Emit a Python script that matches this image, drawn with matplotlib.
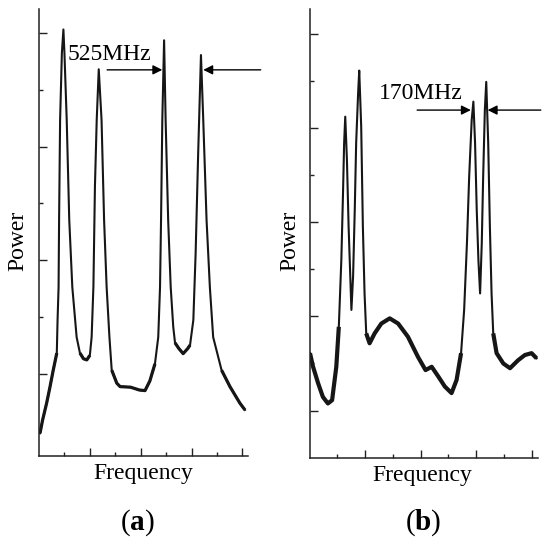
import numpy as np
import matplotlib
matplotlib.use('Agg')
import matplotlib.pyplot as plt

plt.rcParams['font.family'] = ['Liberation Serif', 'DejaVu Serif']
plt.rcParams['mathtext.fontset'] = 'custom'
plt.rcParams['mathtext.rm'] = 'Liberation Serif'
plt.rcParams['mathtext.bf'] = 'Liberation Serif:bold'

# (a) 四峰谱，峰间隔 525 MHz
A_X = [0.04, 0.14, 0.30, 0.43, 0.56, 0.70, 0.73, 0.77, 0.79, 0.83, 0.90, 0.96, 1.00, 1.09,
       1.19, 1.31, 1.48, 1.61, 1.75, 1.88, 2.00, 2.07, 2.14, 2.20, 2.27, 2.35, 2.46, 2.56,
       2.66, 2.77, 2.86, 3.06, 3.19, 3.60, 3.95, 4.17, 4.36, 4.56, 4.69, 4.76, 4.80, 4.85,
       4.92, 4.98, 5.08, 5.18, 5.28, 5.35, 5.50, 5.67, 5.85, 5.94, 6.07, 6.16, 6.26, 6.37,
       6.46, 6.59, 6.72, 6.85, 7.18, 7.51, 7.90, 8.10]
A_Y = [-0.04, 0.19, 0.49, 0.77, 1.07, 1.37, 1.95, 2.53, 3.71, 5.47, 6.65, 7.06, 6.65, 5.47,
       3.71, 2.53, 1.65, 1.37, 1.27, 1.25, 1.33, 1.65, 2.54, 4.30, 5.47, 6.36, 5.47, 3.71,
       2.53, 1.65, 1.07, 0.84, 0.78, 0.77, 0.72, 0.71, 0.88, 1.18, 1.65, 2.53, 3.71, 5.47,
       6.87, 5.47, 3.71, 2.53, 1.83, 1.55, 1.45, 1.36, 1.45, 1.51, 1.95, 3.12, 4.88, 6.61,
       5.47, 3.71, 2.53, 1.65, 1.07, 0.78, 0.49, 0.37]

# (b) 两组双峰，间隔 170 MHz
B_X = [0.05, 0.16, 0.34, 0.51, 0.69, 0.84, 0.99, 1.08, 1.17, 1.23, 1.27, 1.31, 1.37, 1.43,
       1.49, 1.53, 1.59, 1.65, 1.70, 1.77, 1.81, 1.88, 1.94, 2.00, 2.06, 2.18, 2.36, 2.60,
       2.90, 3.20, 3.55, 3.91, 4.18, 4.40, 4.64, 4.87, 5.11, 5.29, 5.45, 5.56, 5.66, 5.74,
       5.83, 5.89, 5.95, 6.01, 6.07, 6.13, 6.19, 6.24, 6.30, 6.35, 6.42, 6.48, 6.54, 6.60,
       6.72, 6.96, 7.20, 7.49, 7.73, 7.97, 8.15]
B_Y = [2.22, 1.93, 1.58, 1.29, 1.15, 1.22, 1.93, 2.78, 4.20, 5.62, 6.69, 7.25, 6.33, 4.91,
       3.85, 3.14, 3.85, 5.27, 6.69, 7.75, 8.23, 7.04, 4.91, 3.49, 2.64, 2.43, 2.64, 2.85,
       2.96, 2.85, 2.57, 2.14, 1.86, 1.93, 1.72, 1.51, 1.37, 1.65, 2.22, 3.14, 4.56, 5.98,
       7.18, 7.57, 6.69, 5.27, 4.20, 3.49, 4.56, 5.98, 7.39, 7.99, 6.69, 4.91, 3.49, 2.64,
       2.22, 2.00, 1.90, 2.07, 2.18, 2.22, 2.11]

LABEL_A, LABEL_B = '525MHz', '170MHz'
CURVE = '#161616'

fig = plt.figure(figsize=(5.45, 5.5), dpi=100)
axA = fig.add_axes([39/545, 94/550, 209/545, 447/550])
axB = fig.add_axes([310/545, 92/550, 228/545, 449/550])

def style(ax, xmaj, xmin, ymaj, ymin):
    for s in ['top', 'right']:
        ax.spines[s].set_visible(False)
    for s in ['left', 'bottom']:
        ax.spines[s].set_linewidth(1.1)
        ax.spines[s].set_color('#222222')
    ax.set_xticks(xmaj); ax.set_xticks(xmin, minor=True)
    ax.set_yticks(ymaj); ax.set_yticks(ymin, minor=True)
    ax.tick_params(which='major', direction='in', length=6, width=1.0, color='#222222',
                   labelbottom=False, labelleft=False)
    ax.tick_params(which='minor', direction='in', length=3, width=1.0, color='#222222')

def trace(ax, x, y, thr, lw_noise):
    # 谱线：整体细线，底部噪声区加粗
    x = np.asarray(x); y = np.asarray(y)
    ax.plot(x, y, color=CURVE, lw=1.5, solid_joinstyle='round')
    ax.plot(x, np.where(y < thr, y, np.nan), color=CURVE, lw=lw_noise,
            solid_capstyle='butt', solid_joinstyle='round')

def arrows(ax, xl0, xl1, xr0, xr1, y):
    kw = dict(arrowstyle='-|>', color='black', lw=1.0, mutation_scale=14,
              shrinkA=0, shrinkB=0)
    ax.annotate('', xy=(xl1, y), xytext=(xl0, y), arrowprops=kw, annotation_clip=False)
    ax.annotate('', xy=(xr1, y), xytext=(xr0, y), arrowprops=kw, annotation_clip=False)

# ---- (a)
trace(axA, A_X, A_Y, 1.6, 2.3)
axA.set_xlim(0, 8.22); axA.set_ylim(-0.44, 7.42)
style(axA, [2, 4, 6, 8], [1, 3, 5, 7], [1, 3, 5, 7], [2, 4, 6])
axA.text(1.12, 6.62, LABEL_A, fontsize=17, ha='left', va='center')
arrows(axA, 2.68, 4.85, 8.72, 6.46, 6.35)

# ---- (b)
trace(axB, B_X, B_Y, 3.0, 3.0)
axB.set_xlim(0.05, 8.2); axB.set_ylim(-0.01, 9.54)
style(axB, [2, 4, 6, 8], [1, 3, 5, 7], [1, 3, 5, 7, 9], [2, 4, 6, 8])
axB.text(2.52, 7.75, LABEL_B, fontsize=17, ha='left', va='center')
arrows(axB, 3.88, 5.80, 8.30, 6.40, 7.39)

for xp in (18, 290):
    fig.text(xp/545, 1-241/550, 'Power', rotation=90, fontsize=17, ha='center', va='center')
fig.text(143/545, 1-474/550, 'Frequency', fontsize=17, ha='center', va='center')
fig.text(422/545, 1-475/550, 'Frequency', fontsize=17, ha='center', va='center')
fig.text(137/545, 1-523/550, r'($\mathbf{a}$)', fontsize=21, ha='center', va='center')
fig.text(423/545, 1-523/550, r'($\mathbf{b}$)', fontsize=21, ha='center', va='center')

fig.savefig('out.png', dpi=100)
